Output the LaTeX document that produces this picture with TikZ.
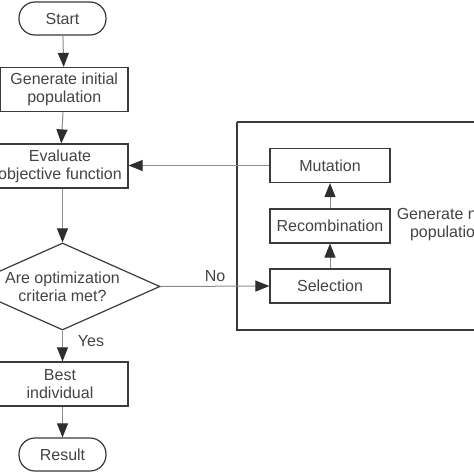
\documentclass[tikz,border=0pt]{standalone}
\usepackage{fontspec}
\setmainfont{Liberation Sans}
\usetikzlibrary{shapes.geometric,arrows.meta}
\definecolor{txt}{HTML}{444444}
\definecolor{bord}{HTML}{3A3A3A}
\definecolor{conn}{HTML}{8C8C8C}
\definecolor{tip}{HTML}{2E2E2E}
\begin{document}
\begin{tikzpicture}[x=1pt,y=-1pt,
  lbl/.style={text=txt, font=\fontsize{16}{18}\selectfont, align=center, inner sep=0pt},
  box/.style={lbl, draw=bord, line width=1.2pt, rectangle, minimum height=44pt},
  term/.style={box, rounded corners=16pt, minimum width=87pt, minimum height=33pt},
  dec/.style={lbl, draw=bord, line width=1.2pt, diamond, aspect=2.24, minimum width=195pt, minimum height=87pt},
  frame/.style={draw=bord, line width=1.3pt},
  conn/.style={draw=conn, line width=1pt, -{Triangle[length=14pt,width=11pt,fill=tip,color=tip]}},
  plain/.style={draw=conn, line width=1pt}]
\useasboundingbox (0,0) rectangle (474,474);
\clip (0,0) rectangle (474,474);
\fill[white] (0,0) rectangle (474,474);

\node[term] (start) at (62.5,18.5) {Start};
\node[box, minimum width=127.5pt] (gen) at (64.25,89.5) {Generate initial\\population};
\node[box, minimum width=136pt] (eval) at (60,166) {Evaluate\\objective function};
\node[dec] (crit) at (62.5,286.5) {Are optimization\\criteria met?};
\node[box, minimum width=136pt] (best) at (60,384) {Best\\individual};
\node[term] (res) at (62.5,454.5) {Result};

\draw[frame] (237,122) -- (500,122) (237,122) -- (237,330) -- (500,330);
\node[box, minimum width=120pt, minimum height=34pt] (sel) at (330,286) {Selection};
\node[box, minimum width=120pt, minimum height=34pt] (rec) at (330,226) {Recombination};
\node[box, minimum width=120pt, minimum height=34pt] (mut) at (330,165.5) {Mutation};
\node[lbl] (gnp) at (447,224.5) {Generate new\\population};

\draw[conn] (start) -- (gen);
\draw[conn] (gen) -- (eval);
\draw[conn] (eval.south -| crit.north) -- (crit.north);
\draw[conn] (crit.south) -- (best.north -| crit.south);
\draw[conn] (best.south -| res.north) -- (res);
\draw[conn] (crit.east) -- node[lbl, above=4pt] (no) {No} (sel.west);
\draw[conn] (sel) -- (rec);
\draw[conn] (rec) -- (mut);
\draw[conn] (mut.west) -- (eval.east |- mut.west);
\node[lbl] (yes) at (91,341) {Yes};
\end{tikzpicture}
\end{document}
